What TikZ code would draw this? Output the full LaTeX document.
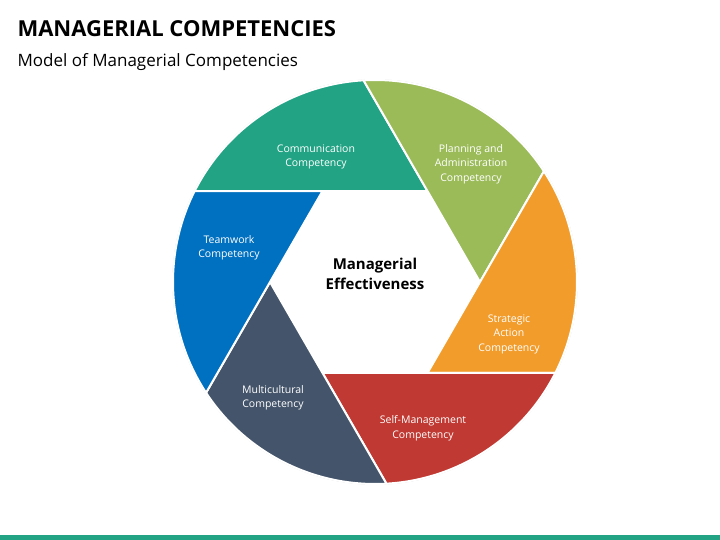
\documentclass[tikz,border=0pt]{standalone}
\usepackage{fontspec}
\setmainfont{Open Sans}
\definecolor{commteal}{RGB}{33,163,132}
\definecolor{plangreen}{RGB}{155,187,89}
\definecolor{stratorange}{RGB}{242,156,43}
\definecolor{selfred}{RGB}{192,57,50}
\definecolor{multislate}{RGB}{68,84,106}
\definecolor{teamblue}{RGB}{0,112,192}
\tikzset{
    blade/.style={draw=white, line width=2pt},
    lbl/.style={text=white, align=center, font=\fontsize{10.5}{14.5}\selectfont},
}
\begin{document}
\begin{tikzpicture}[x=100pt,y=100pt]
    \useasboundingbox (-3.75,-2.58) rectangle (3.45,2.82);
    \fill[commteal] (-3.75,-2.58) rectangle (3.45,-2.53);
    \node[anchor=west, font=\fontsize{22}{26}\selectfont\bfseries] (title) at (-3.61,2.53) {MANAGERIAL COMPETENCIES};
    \node[anchor=west, font=\fontsize{17}{21}\selectfont] (subtitle) at (-3.61,2.20) {Model of Managerial Competencies};

    \draw[gray!40, line width=1.5pt] (0,0) circle (2.02);
    \fill[commteal, blade] (60:1.05) -- (153.25:2.02) arc[start angle=153.25, end angle=93.25, radius=2.02] -- cycle;
    \fill[plangreen, blade] (0:1.05) -- (93.25:2.02) arc[start angle=93.25, end angle=33.25, radius=2.02] -- cycle;
    \fill[stratorange, blade] (-60:1.05) -- (33.25:2.02) arc[start angle=33.25, end angle=-26.75, radius=2.02] -- cycle;
    \fill[selfred, blade] (-120:1.05) -- (-26.75:2.02) arc[start angle=-26.75, end angle=-86.75, radius=2.02] -- cycle;
    \fill[multislate, blade] (180:1.05) -- (-86.75:2.02) arc[start angle=-86.75, end angle=-146.75, radius=2.02] -- cycle;
    \fill[teamblue, blade] (120:1.05) -- (-146.75:2.02) arc[start angle=-146.75, end angle=-206.75, radius=2.02] -- cycle;

    \node[font=\fontsize{15}{20}\selectfont\bfseries, align=center] (center) at (0,0.08) {Managerial\\Effectiveness};
    \node[lbl] (comm) at (-0.59,1.25) {Communication\\Competency};
    \node[lbl] (plan) at (0.96,1.18) {Planning and\\Administration\\Competency};
    \node[lbl] (team) at (-1.46,0.34) {Teamwork\\Competency};
    \node[lbl] (strat) at (1.34,-0.52) {Strategic\\Action\\Competency};
    \node[lbl] (multi) at (-1.02,-1.16) {Multicultural\\Competency};
    \node[lbl] (self) at (0.48,-1.46) {Self-Management\\Competency};
\end{tikzpicture}
\end{document}
